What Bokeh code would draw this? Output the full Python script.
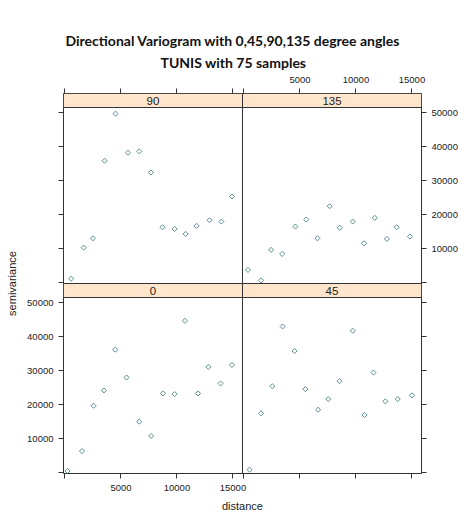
import numpy as np
from bokeh.plotting import figure
from bokeh.models import Range1d, LinearAxis, FixedTicker, Title, PrintfTickFormatter
from bokeh.core.properties import value
from bokeh.embed import file_html
from bokeh.resources import INLINE

# ---------------- data ----------------
title_line1 = "Directional Variogram with 0,45,90,135 degree angles"
title_line2 = "TUNIS with 75 samples"

dist_0 = [230, 1520, 2550, 3480, 4490, 5500, 6630, 7700, 8750, 9790, 10710, 11880, 12800, 13890, 14910]
gamma_0 = [580, 6420, 19730, 24230, 36190, 28020, 15060, 10890, 23350, 23150, 44660, 23350, 31120, 26270, 31700]

dist_45 = [500, 1530, 2530, 3450, 4510, 5480, 6620, 7530, 8530, 9710, 10770, 11560, 12620, 13730, 15000]
gamma_45 = [960, 17510, 25480, 43000, 35790, 24600, 18570, 21690, 26950, 41740, 17020, 29480, 21020, 21690, 22770]

dist_90 = [560, 1660, 2500, 3540, 4520, 5630, 6630, 7680, 8710, 9790, 10770, 11750, 12910, 13960, 14910]
gamma_90 = [1260, 10380, 13120, 35880, 49700, 38240, 38620, 32440, 16350, 15880, 14410, 16760, 18410, 18030, 25380]

dist_135 = [360, 1530, 2420, 3410, 4590, 5560, 6560, 7650, 8560, 9710, 10730, 11680, 12760, 13640, 14820]
gamma_135 = [3820, 760, 9700, 8530, 16560, 18620, 13120, 22530, 16180, 18030, 11650, 19120, 12940, 16350, 13620]

x_ticks = [0, 5000, 10000, 15000]
y_ticks = [0, 10000, 20000, 30000, 40000, 50000]

# ---------------- layout constants ----------------
XLIM = (-130, 15850)
YLIM = (-150, 51500)
PW, PH, SH = 179, 176, 14          # panel width, panel height, strip height (px)
FW, FH = 2 * PW, 2 * (PH + SH)
W, H = 474, 525
ML, MT = 63, 93
MR = W - ML - FW
MB = H - MT - FH

xu = (XLIM[1] - XLIM[0]) / PW
yu = (YLIM[1] - YLIM[0]) / PH
xoff = XLIM[1] - XLIM[0]           # shift between columns, in data units
yoff = yu * (PH + SH)              # shift between rows, in data units

x_left = Range1d(XLIM[0], XLIM[0] + xu * FW)
x_right = Range1d(XLIM[0] - xoff, XLIM[1])
y_bot = Range1d(YLIM[0], YLIM[0] + yu * FH)
y_top = Range1d(YLIM[0] - yoff, YLIM[0] - yoff + yu * FH)

INK = "#333333"
TXT = "#222222"
PT = "#5e8f96"
STRIP = "#ffe5cc"

p = figure(width=W, height=H, x_range=x_left, y_range=y_bot,
           x_axis_type=None, y_axis_type=None, title=None,
           output_backend="svg", toolbar_location=None,
           min_border_left=ML, min_border_right=MR,
           min_border_top=MT, min_border_bottom=MB)
p.extra_x_ranges = {"xr": x_right}
p.extra_y_ranges = {"yt": y_top}
p.outline_line_color = INK
p.background_fill_color = "white"
p.border_fill_color = "white"

panels = [
    ("90", dist_90, gamma_90, "default", "yt"),
    ("135", dist_135, gamma_135, "xr", "yt"),
    ("0", dist_0, gamma_0, "default", "default"),
    ("45", dist_45, gamma_45, "xr", "default"),
]

for label, xs, ys, xr, yr in panels:
    p.quad(left=XLIM[0], right=XLIM[1], bottom=YLIM[0], top=YLIM[1],
           fill_color=None, line_color=INK, line_width=1,
           x_range_name=xr, y_range_name=yr)
    p.quad(left=XLIM[0], right=XLIM[1], bottom=YLIM[1], top=YLIM[1] + yu * SH,
           fill_color=STRIP, line_color=INK, line_width=1,
           x_range_name=xr, y_range_name=yr)
    p.text(x=[(XLIM[0] + XLIM[1]) / 2], y=[YLIM[1] + yu * SH / 2], text=[label],
           text_align="center", text_baseline="middle",
           text_font=value("Liberation Sans"), text_font_size="11.5px",
           text_color=TXT, x_range_name=xr, y_range_name=yr)
    p.scatter(x=xs, y=ys, marker="square", angle=np.pi / 4, size=3.6,
              fill_color=None, line_color=PT, line_width=1,
              x_range_name=xr, y_range_name=yr)


def style(ax):
    ax.axis_line_color = None
    ax.major_tick_line_color = INK
    ax.major_tick_out = 5
    ax.major_tick_in = 0
    ax.minor_tick_line_color = None
    ax.major_label_text_font = "Liberation Sans"
    ax.major_label_text_font_size = "9.5px"
    ax.major_label_text_color = TXT
    ax.major_label_standoff = 5
    ax.axis_label_text_font = "Liberation Sans"
    ax.axis_label_text_font_size = "11px"
    ax.axis_label_text_font_style = "normal"
    ax.axis_label_text_color = TXT
    ax.formatter = PrintfTickFormatter(format="%d")


# bottom axis: labels for the left column only
bt = [float(t) for t in x_ticks] + [float(t + xoff) for t in x_ticks]
bottom = LinearAxis(ticker=FixedTicker(ticks=bt), axis_label="distance")
style(bottom)
bottom.major_label_overrides = {t: "" for t in bt if t == 0 or t >= xoff + XLIM[0] + 1}
bottom.major_label_standoff = 6
bottom.axis_label_standoff = 6
p.add_layout(bottom, "below")

# top axis: labels for the right column only
tt = [float(t - xoff) for t in x_ticks] + [float(t) for t in x_ticks]
top = LinearAxis(ticker=FixedTicker(ticks=tt), x_range_name="xr")
style(top)
top.major_label_overrides = {t: "" for t in tt if t <= 0}
top.major_label_standoff = 6
p.add_layout(top, "above")

# left axis: labels for the bottom row only
lt = [float(t) for t in y_ticks] + [float(t + yoff) for t in y_ticks]
left = LinearAxis(ticker=FixedTicker(ticks=lt), axis_label="semivariance")
style(left)
left.major_label_overrides = {t: "" for t in lt if t == 0 or t > YLIM[1]}
left.axis_label_standoff = 6
p.add_layout(left, "left")

# right axis: labels for the top row only
rt = [float(t - yoff) for t in y_ticks] + [float(t) for t in y_ticks]
right = LinearAxis(ticker=FixedTicker(ticks=rt), y_range_name="yt")
style(right)
right.major_label_overrides = {t: "" for t in rt if t <= 0}
p.add_layout(right, "right")

p.add_layout(Title(text=title_line2, align="left", offset=97, text_font="Lato",
                   text_font_size="14px", text_font_style="bold",
                   text_color="#111111", standoff=6), "above")
p.add_layout(Title(text=title_line1, align="left", offset=2, text_font="Lato",
                   text_font_size="14px", text_font_style="bold",
                   text_color="#111111", standoff=0), "above")

open("out.html", "w").write(file_html(p, INLINE))
